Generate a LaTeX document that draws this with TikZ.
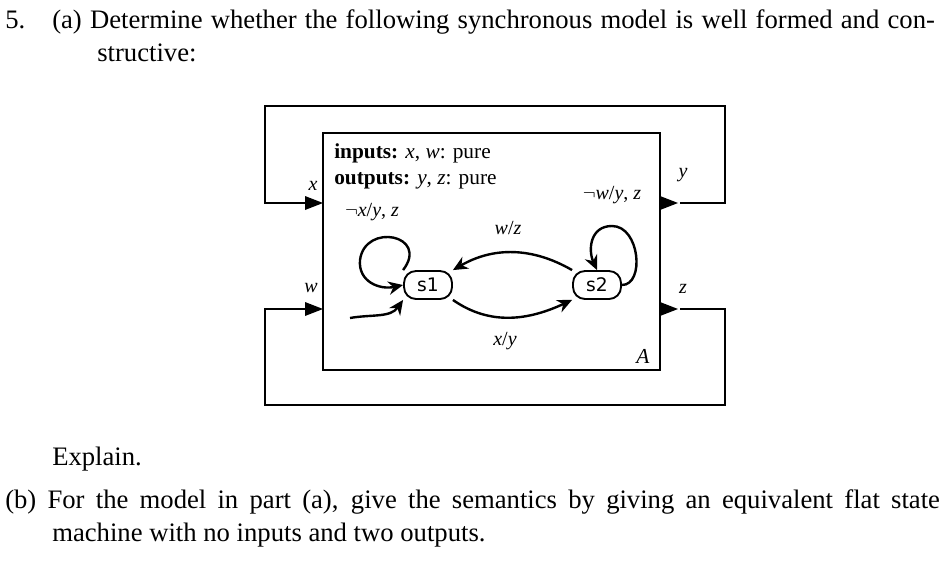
\documentclass[tikz,border=0pt]{standalone}
\usepackage{fontspec}
\setmainfont{Liberation Serif}
\setsansfont{DejaVu Sans}
\usetikzlibrary{arrows.meta}
\begin{document}
\begin{tikzpicture}[x=0.75pt,y=-0.75pt,
  body/.style={font=\fontsize{20}{24}\selectfont,anchor=base west,inner sep=0pt},
  lbl/.style={font=\fontsize{15}{17}\selectfont,inner sep=0pt},
  st/.style={draw,line width=1.4pt,rounded corners=9pt,minimum width=36pt,minimum height=21pt,font=\sffamily\fontsize{14}{16}\selectfont,inner sep=1pt},
  tr/.style={line width=1.8pt,-{Stealth[length=11pt,width=10pt]}},
  port/.style={fill=black,draw=none},
  wire/.style={line width=0.8pt}]
\useasboundingbox (0,0) rectangle (946,571);
% text
\node[body] (n5) at (5,28) {5.};
\node[body] (la) at (52,28) {\makebox[662pt][s]{(a) Determine whether the following synchronous model is well formed and con-}};
\node[body] (lb) at (97,61) {structive:};
\node[body] (le) at (52,465) {Explain.};
\node[body] (lc) at (5,508) {\makebox[701pt][s]{(b) For the model in part (a), give the semantics by giving an equivalent flat state}};
\node[body] (ld) at (52,541) {machine with no inputs and two outputs.};
% box
\draw[wire] (323,133) rectangle (660,370);
\node (A) at (643,356) {\fontsize{16}{18}\selectfont\itshape A};
% wires
\coordinate (xin) at (305,203);
\coordinate (win) at (305,309);
\coordinate (yout) at (680,203);
\coordinate (zout) at (680,309);
\draw[wire] (xin) -- (265,203) -- (265,106) -- (725,106) -- (725,203) -- (yout);
\draw[wire] (win) -- (265,309) -- (265,405) -- (725,405) -- (725,309) -- (zout);
\fill[port] (305,196) -- (323,203) -- (305,210) -- cycle;
\fill[port] (305,302) -- (323,309) -- (305,316) -- cycle;
\fill[port] (660,196) -- (678,203) -- (660,210) -- cycle;
\fill[port] (660,302) -- (678,309) -- (660,316) -- cycle;
\node[lbl] (lx) at (313,186) {\itshape x};
\node[lbl] (lw) at (311,288) {\itshape w};
\node[lbl] (ly) at (683,175) {\itshape y};
\node[lbl] (lz) at (683,289) {\itshape z};
% declarations
\node[lbl,anchor=west,font=\fontsize{16}{18}\selectfont] (inp) at (334,153) {\textbf{inputs:} \textit{x}, \textit{w}: pure};
\node[lbl,anchor=west,font=\fontsize{16}{18}\selectfont] (outp) at (334,181) {\textbf{outputs:} \textit{y}, \textit{z}: pure};
% states
\node[st] (s1) at (428,285) {s1};
\node[st] (s2) at (597,285) {s2};
\coordinate (init) at (350,318);
\draw[tr] (init) to[out=10,in=235] (s1.south west);
\draw[tr] (s1.north west) .. controls (430,235) and (365,222) .. (360,260) .. controls (358,282) and (380,290) .. (s1.west);
\draw[tr] (s1.south east) to[out=-35,in=205] (s2.south west);
\draw[tr] (s2.north west) to[out=150,in=30] (s1.north east);
\draw[tr] (s2.east) .. controls (645,285) and (640,226) .. (612,226) .. controls (590,226) and (588,250) .. (s2.north);
\node[lbl] (l1) at (372,212) {$\neg$\textit{x}/\textit{y}, \textit{z}};
\node[lbl] (l2) at (508,228) {\textit{w}/\textit{z}};
\node[lbl] (l3) at (612,195) {$\neg$\textit{w}/\textit{y}, \textit{z}};
\node[lbl] (l4) at (505,341) {\textit{x}/\textit{y}};
\end{tikzpicture}
\end{document}
